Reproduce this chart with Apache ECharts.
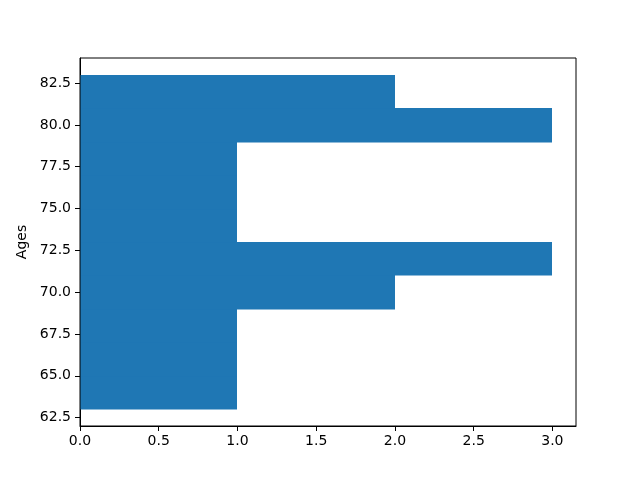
<!DOCTYPE html>
<html>
<head>
<meta charset="utf-8">
<script src="https://cdn.jsdelivr.net/npm/echarts@6/dist/echarts.min.js"></script>
<style>html,body{margin:0;padding:0;background:#fff}#c{width:640px;height:480px}</style>
</head>
<body>
<div id="c"></div>
<script>
const binStarts = [63, 65, 67, 69, 71, 73, 75, 77, 79, 81];
const binEnds   = [65, 67, 69, 71, 73, 75, 77, 79, 81, 83];
const counts    = [1, 1, 1, 2, 3, 1, 1, 1, 3, 2];
const yTicks = [62.5, 65, 67.5, 70, 72.5, 75, 77.5, 80, 82.5];
const xTicks = [0, 0.5, 1, 1.5, 2, 2.5, 3];

const data = binStarts.map((s, i) => [s, binEnds[i], counts[i]]);
const chart = echarts.init(document.getElementById('c'), null, {renderer: 'canvas'});
const font = {fontFamily: 'DejaVu Sans', fontSize: 14, color: '#000'};
chart.setOption({
  animation: false,
  grid: {left: 80, right: 64, top: 58, bottom: 54, show: true, borderColor: '#000', borderWidth: 1, backgroundColor: 'transparent', z: 5},
  xAxis: {
    type: 'value', min: 0, max: 3.15,
    splitLine: {show: false},
    axisLine: {show: true, lineStyle: {color: '#000'}},
    axisTick: {show: true, length: 5, lineStyle: {color: '#000'}, customValues: xTicks},
    axisLabel: Object.assign({margin: 8, customValues: xTicks, formatter: v => v.toFixed(1)}, font)
  },
  yAxis: {
    type: 'value', min: 62, max: 84,
    name: 'Ages', nameLocation: 'middle', nameGap: 42,
    nameTextStyle: font,
    splitLine: {show: false},
    axisLine: {show: true, lineStyle: {color: '#000'}},
    axisTick: {show: true, length: 5, lineStyle: {color: '#000'}, customValues: yTicks},
    axisLabel: Object.assign({margin: 9, customValues: yTicks, formatter: v => v.toFixed(1)}, font)
  },
  series: [{
    type: 'custom',
    data: data,
    encode: {x: 2, y: [0, 1]},
    renderItem: function (params, api) {
      const p0 = api.coord([0, api.value(0)]);
      const p1 = api.coord([api.value(2), api.value(1)]);
      const x0 = Math.round(p0[0]), x1 = Math.round(p1[0]);
      const yb = Math.round(p0[1]), yt = Math.round(p1[1]);
      return {
        type: 'rect',
        shape: {x: x0, y: yt, width: x1 - x0, height: yb - yt + 0.6},
        style: {fill: '#1f77b4'}
      };
    }
  }]
});
</script>
</body>
</html>
